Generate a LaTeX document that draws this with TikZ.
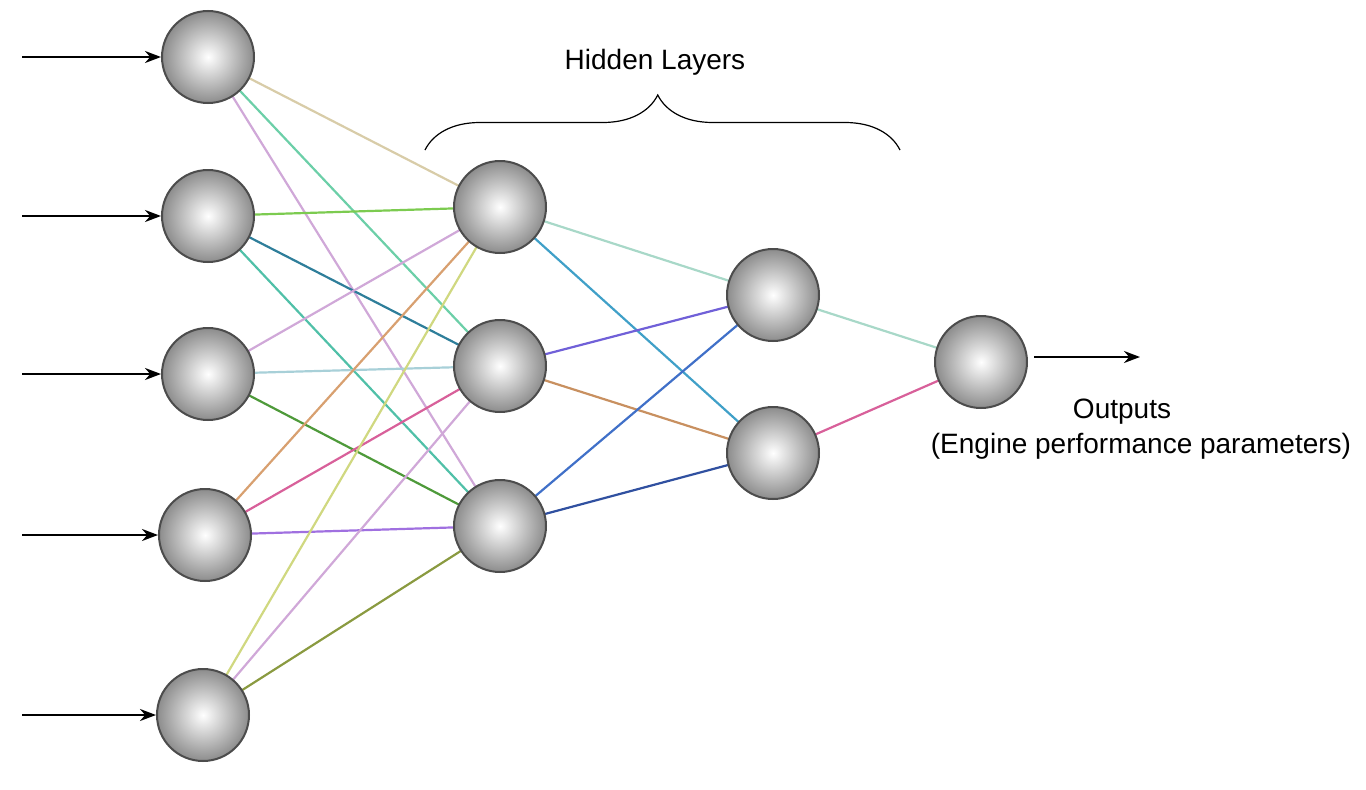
\documentclass[tikz,border=0pt]{standalone}
\usepackage{fontspec}
\setmainfont{Liberation Sans}
\usetikzlibrary{arrows.meta,decorations.pathreplacing}
\begin{document}
\begin{tikzpicture}[x=1pt,y=-1pt,
  neuron/.style={circle,minimum size=92pt,inner sep=0pt,draw=black!70,line width=2pt,inner color=white,outer color=black!45},
  conn/.style={line width=2.2pt},
  inarr/.style={line width=2.4pt,-{Stealth[length=16pt,width=12pt]}},
  lab/.style={font=\fontsize{28pt}{32pt}\selectfont}]
\useasboundingbox (0,0) rectangle (1366,790);
\definecolor{tan}{HTML}{D8CCA8}\definecolor{tgreen}{HTML}{6CCFA8}\definecolor{lilac}{HTML}{D0A8D8}
\definecolor{lgreen}{HTML}{7CCB50}\definecolor{dteal}{HTML}{2E7E9A}\definecolor{teal}{HTML}{50C0A8}
\definecolor{lblue}{HTML}{A8D0D8}\definecolor{dgreen}{HTML}{4E9A3A}\definecolor{orng}{HTML}{D8A070}
\definecolor{pink}{HTML}{D8609A}\definecolor{purp}{HTML}{A070E0}\definecolor{ygreen}{HTML}{D0D880}
\definecolor{olive}{HTML}{8A9A40}\definecolor{ltea}{HTML}{A8D8C8}\definecolor{bteal}{HTML}{40A0C8}
\definecolor{viol}{HTML}{7060D8}\definecolor{brwn}{HTML}{C89060}\definecolor{blu}{HTML}{4070C8}\definecolor{dblu}{HTML}{3050A0}
\coordinate (i1) at (208,57);\coordinate (i2) at (208,216);\coordinate (i3) at (208,374);
\coordinate (i4) at (205,535);\coordinate (i5) at (203,715);
\coordinate (h1) at (500,207);\coordinate (h2) at (500,366);\coordinate (h3) at (500,526);
\coordinate (j1) at (773,295);\coordinate (j2) at (773,453);\coordinate (o) at (981,362);
\foreach \a/\b/\c in {i1/h1/tan,i1/h2/tgreen,i1/h3/lilac,i2/h1/lgreen,i2/h2/dteal,i2/h3/teal,
 i3/h1/lilac,i3/h2/lblue,i3/h3/dgreen,i4/h1/orng,i4/h2/pink,i4/h3/purp,i5/h1/ygreen,i5/h2/lilac,i5/h3/olive,
 h1/j1/ltea,h1/j2/bteal,h2/j1/viol,h2/j2/brwn,h3/j1/blu,h3/j2/dblu,j1/o/ltea,j2/o/pink}
 \draw[conn,\c] (\a) -- (\b);
\foreach \n in {i1,i2,i3,i4,i5,h1,h2,h3,j1,j2,o} \node[neuron] (N\n) at (\n) {};
\foreach \n/\y in {i1/57,i2/216,i3/374,i4/535,i5/715} {\coordinate (s\n) at (22,\y); \draw[inarr] (s\n) -- (N\n.west);}
\coordinate (oe) at (1140,357);
\draw[inarr] (No.east) ++(6,-5) coordinate (os) (os) -- (oe);
\node[lab] (hl) at (655,62) {Hidden Layers};
\coordinate (b1) at (425,150);\coordinate (b2) at (900,150);
\draw[line width=1.2pt,decorate,decoration={brace,amplitude=55pt,aspect=0.49}] (b1) -- (b2);
\node[lab] (out) at (1122,412) {Outputs};
\node[lab] (eng) at (1141,446) {(Engine performance parameters)};
\end{tikzpicture}
\end{document}
